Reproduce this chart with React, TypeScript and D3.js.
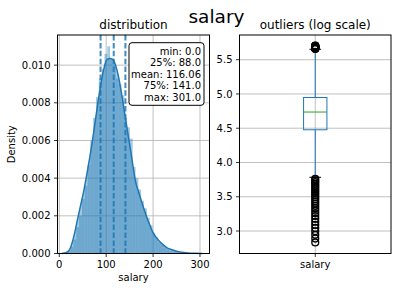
import React from 'react';
import * as d3 from 'd3';

// ---- data ----
const histRange = [0, 301];
const histDensity = [
  0.0, 0.00001, 0.00003, 0.00012, 0.00035, 0.00075, 0.0014, 0.0020, 0.0029, 0.0036,
  0.0047, 0.0060, 0.0072, 0.0083, 0.0093, 0.0098, 0.0106, 0.0110, 0.0103, 0.0100,
  0.0093, 0.0090, 0.0084, 0.0072, 0.0067, 0.0061, 0.0046, 0.0040, 0.0034, 0.0028,
  0.0024, 0.0019, 0.0015, 0.0011, 0.00085, 0.0006, 0.00045, 0.00032, 0.00022, 0.00015,
  0.0001, 0.00007, 0.00005, 0.00003, 0.00002, 0.000015, 0.00001, 0.000008, 0.000005, 0.000003,
];
const kdeX = [5, 15, 22, 30, 38, 45, 52, 58, 65, 72, 80, 88, 95, 102, 108, 114, 120, 127, 134, 141, 148, 155, 162, 170, 180, 190, 200, 210, 220, 230, 240, 250, 260, 275, 290, 305];
const kdeY = [0, 0.00005, 0.0002, 0.0008, 0.0017, 0.0025, 0.0033, 0.0041, 0.0051, 0.0062, 0.0076, 0.0089, 0.0098, 0.0103, 0.01035, 0.0103, 0.0100, 0.0093, 0.0083, 0.0072, 0.0061, 0.0050, 0.0039, 0.0032, 0.0024, 0.0017, 0.0011, 0.00075, 0.0005, 0.0003, 0.0002, 0.00012, 0.00007, 0.00003, 0.00001, 0];
const statNames = ['min', '25%', 'mean', '75%', 'max'];
const statTexts = ['0.0', '88.0', '116.06', '141.0', '301.0'];
const markerLines = [88.0, 116.06, 141.0];
const xTicks = [0, 100, 200, 300];
const yTicks = [0, 0.002, 0.004, 0.006, 0.008, 0.01];
const logTicks = [3.0, 3.5, 4.0, 4.5, 5.0, 5.5];
const boxSalary = { q1: 88, median: 114, q3: 141, whiskLo: 44, whiskHi: 285 };
const lowOutliers = [17, 18, 19, 20, 21, 22, 23, 24, 25, 26, 27, 28, 29, 30, 31, 32, 33, 34, 35, 36, 37, 38, 39, 40, 41, 42, 43];
const highOutliers = [286, 287, 288, 289, 290, 291, 292, 293, 294, 295, 296, 297, 298, 299, 300, 301];

const FONT = 'DejaVu Sans, sans-serif';
const BLUE = '#1f77b4';
const GRID = '#b0b0b0';

export default function App() {
  const W = 398, H = 291;
  const L = { x0: 57.5, x1: 209.5, y0: 35, y1: 253.5 };
  const R = { x0: 239.5, x1: 391, y0: 35, y1: 253.5 };

  const x = d3.scaleLinear().domain([-3.8, 320.3]).range([L.x0, L.x1]);
  const y = d3.scaleLinear().domain([0, 0.0116]).range([L.y1, L.y0]);
  const ly = d3.scaleLinear().domain([2.672, 5.8605]).range([R.y1, R.y0]);
  const bx = d3.scaleLinear().domain([0.5, 1.5]).range([R.x0, R.x1]);

  const nb = histDensity.length;
  const bw = (histRange[1] - histRange[0]) / nb;

  const kdePts = kdeX.map((v, i) => [v, kdeY[i]] as [number, number]);
  const area = d3.area<[number, number]>().x(d => x(d[0])).y0(y(0)).y1(d => y(d[1])).curve(d3.curveMonotoneX);
  const line = d3.line<[number, number]>().x(d => x(d[0])).y(d => y(d[1])).curve(d3.curveMonotoneX);

  const bc = bx(1);
  const boxHalf = 0.077 * (R.x1 - R.x0);
  const capHalf = boxHalf / 2;
  const lg = (v: number) => ly(Math.log(v));

  return (
    <svg width={W} height={H} style={{ position: 'absolute', left: 0, top: 0, background: '#fff' }} fontFamily={FONT}>
      <rect x={0} y={0} width={W} height={H} fill="#fff" />
      <text x={216.5} y={22.5} fontSize={18.5} textAnchor="middle">salary</text>

      {/* ---- left panel ---- */}
      <g>
        {xTicks.map(t => (
          <line key={'gx' + t} x1={x(t)} x2={x(t)} y1={L.y0} y2={L.y1} stroke={GRID} strokeWidth={0.8} />
        ))}
        {yTicks.map(t => (
          <line key={'gy' + t} x1={L.x0} x2={L.x1} y1={y(t)} y2={y(t)} stroke={GRID} strokeWidth={0.8} />
        ))}
        {histDensity.map((d, i) => (
          <rect key={'b' + i} x={x(histRange[0] + i * bw)} width={x(histRange[0] + (i + 1) * bw) - x(histRange[0] + i * bw)}
            y={y(d)} height={y(0) - y(d)} fill={BLUE} fillOpacity={0.4} />
        ))}
        <path d={area(kdePts) || ''} fill={BLUE} fillOpacity={0.4} />
        <path d={line(kdePts) || ''} fill="none" stroke={BLUE} strokeWidth={1.5} />
        {markerLines.map(v => (
          <line key={'m' + v} x1={x(v)} x2={x(v)} y1={L.y0} y2={L.y1} stroke={BLUE} strokeOpacity={0.85} strokeWidth={2} strokeDasharray="5.5 2.4" />
        ))}
        <rect x={L.x0} y={L.y0} width={L.x1 - L.x0} height={L.y1 - L.y0} fill="none" stroke="#000" strokeWidth={1} />
        {xTicks.map(t => (
          <g key={'tx' + t}>
            <line x1={x(t)} x2={x(t)} y1={L.y1} y2={L.y1 + 3.5} stroke="#000" strokeWidth={0.8} />
            <text x={x(t)} y={267.5} fontSize={10} textAnchor="middle">{t}</text>
          </g>
        ))}
        {yTicks.map(t => (
          <g key={'ty' + t}>
            <line x1={L.x0 - 3.5} x2={L.x0} y1={y(t)} y2={y(t)} stroke="#000" strokeWidth={0.8} />
            <text x={50.5} y={y(t)} dy="0.36em" fontSize={10} textAnchor="end">{t.toFixed(3)}</text>
          </g>
        ))}
        <text x={(L.x0 + L.x1) / 2} y={280.5} fontSize={10} textAnchor="middle">salary</text>
        <text transform={`translate(15,${(L.y0 + L.y1) / 2}) rotate(-90)`} fontSize={10} textAnchor="middle">Density</text>
        <text x={(L.x0 + L.x1) / 2} y={29} fontSize={12} textAnchor="middle">distribution</text>
        <rect x={129} y={42.7} width={75} height={62.6} rx={3} ry={3} fill="#fff" stroke="#000" strokeWidth={1} />
        {statNames.map((n, i) => (
          <text key={'s' + n} x={201} y={54.7 + i * 11.5} fontSize={10} textAnchor="end">{`${n}: ${statTexts[i]}`}</text>
        ))}
      </g>

      {/* ---- right panel ---- */}
      <g>
        <line x1={bc} x2={bc} y1={R.y0} y2={R.y1} stroke={GRID} strokeWidth={0.8} />
        {logTicks.map(t => (
          <line key={'rg' + t} x1={R.x0} x2={R.x1} y1={ly(t)} y2={ly(t)} stroke={GRID} strokeWidth={0.8} />
        ))}
        {/* whiskers */}
        <line x1={bc} x2={bc} y1={lg(boxSalary.q3)} y2={lg(boxSalary.whiskHi)} stroke={BLUE} strokeWidth={1} />
        <line x1={bc} x2={bc} y1={lg(boxSalary.q1)} y2={lg(boxSalary.whiskLo)} stroke={BLUE} strokeWidth={1} />
        <line x1={bc - capHalf} x2={bc + capHalf} y1={lg(boxSalary.whiskHi)} y2={lg(boxSalary.whiskHi)} stroke="#000" strokeWidth={1} />
        <line x1={bc - capHalf} x2={bc + capHalf} y1={lg(boxSalary.whiskLo)} y2={lg(boxSalary.whiskLo)} stroke="#000" strokeWidth={1} />
        <rect x={bc - boxHalf} y={lg(boxSalary.q3)} width={2 * boxHalf} height={lg(boxSalary.q1) - lg(boxSalary.q3)} fill="none" stroke={BLUE} strokeWidth={1} />
        <line x1={bc - boxHalf} x2={bc + boxHalf} y1={lg(boxSalary.median)} y2={lg(boxSalary.median)} stroke="#2ca02c" strokeWidth={1} />
        {[...lowOutliers, ...highOutliers].map(v => (
          <circle key={'o' + v} cx={bc} cy={lg(v)} r={3.4} fill="none" stroke="#000" strokeWidth={1.4} />
        ))}
        <rect x={R.x0} y={R.y0} width={R.x1 - R.x0} height={R.y1 - R.y0} fill="none" stroke="#000" strokeWidth={1} />
        {logTicks.map(t => (
          <g key={'rt' + t}>
            <line x1={R.x0 - 3.5} x2={R.x0} y1={ly(t)} y2={ly(t)} stroke="#000" strokeWidth={0.8} />
            <text x={232.5} y={ly(t)} dy="0.36em" fontSize={10} textAnchor="end">{t.toFixed(1)}</text>
          </g>
        ))}
        <line x1={bc} x2={bc} y1={R.y1} y2={R.y1 + 3.5} stroke="#000" strokeWidth={0.8} />
        <text x={bc} y={267.5} fontSize={10} textAnchor="middle">salary</text>
        <text x={(R.x0 + R.x1) / 2} y={29} fontSize={12} textAnchor="middle">outliers (log scale)</text>
      </g>
    </svg>
  );
}
